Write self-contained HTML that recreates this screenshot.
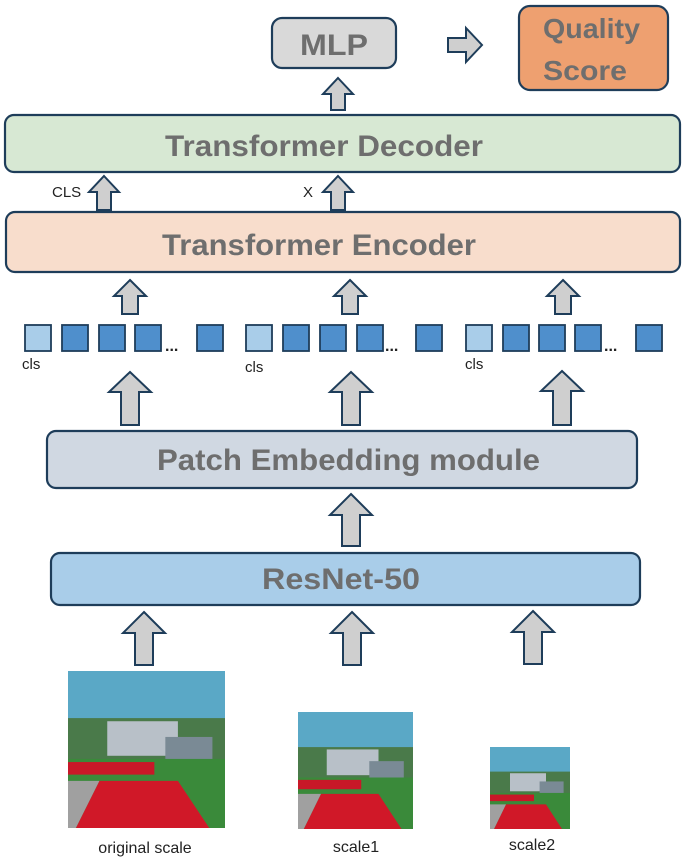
<!DOCTYPE html>
<html><head><style>
html,body{margin:0;padding:0;background:#fff;}
svg{display:block}
text{font-family:"Liberation Sans",sans-serif;}
</style></head><body>
<svg width="685" height="862" viewBox="0 0 685 862" xmlns="http://www.w3.org/2000/svg">
<g stroke="#1e3d5a" stroke-width="2.2">
<rect x="272" y="18" width="124" height="50" rx="10" fill="#d9d9d9"/>
<rect x="519" y="6" width="149" height="84" rx="11" fill="#eea070"/>
<rect x="5" y="115" width="675" height="57" rx="9" fill="#d7e8d3"/>
<rect x="6" y="212" width="674" height="60" rx="9" fill="#f8ddcc"/>
<rect x="47" y="431" width="590" height="57" rx="9" fill="#d0d8e2"/>
<rect x="51" y="553" width="589" height="52" rx="9" fill="#a9cde9"/>
</g>
<g font-weight="bold" fill="#6e6e6e" font-size="30">
<text x="300" y="55" textLength="68" lengthAdjust="spacingAndGlyphs">MLP</text>
<text x="543" y="38" font-size="28" textLength="97" lengthAdjust="spacingAndGlyphs">Quality</text>
<text x="543" y="80" font-size="28" textLength="84" lengthAdjust="spacingAndGlyphs">Score</text>
<text x="165" y="156" textLength="318" lengthAdjust="spacingAndGlyphs">Transformer Decoder</text>
<text x="162" y="255" textLength="314" lengthAdjust="spacingAndGlyphs">Transformer Encoder</text>
<text x="157" y="470" textLength="383" lengthAdjust="spacingAndGlyphs">Patch Embedding module</text>
<text x="262" y="589" textLength="158" lengthAdjust="spacingAndGlyphs">ResNet-50</text>
</g>
<g fill="#cfcfcf" stroke="#1e3d5a" stroke-width="2" stroke-linejoin="miter">
<path d="M448,38 h18 v-10 l16,17 l-16,17 v-10 h-18 z"/>
<path d="M338,78 l15,16 h-8 v16 h-14 v-16 h-8 z"/>
<path d="M104,176 l15,16 h-8 v18 h-14 v-18 h-8 z"/>
<path d="M338,176 l15,16 h-8 v18 h-14 v-18 h-8 z"/>
<path d="M130,280 l16,16 h-8 v18 h-16 v-18 h-8 z"/>
<path d="M350,280 l16,16 h-8 v18 h-16 v-18 h-8 z"/>
<path d="M563,280 l16,16 h-8 v18 h-16 v-18 h-8 z"/>
<path d="M130,372 l21,20 h-12 v33 h-18 v-33 h-12 z"/>
<path d="M351,372 l21,20 h-12 v33 h-18 v-33 h-12 z"/>
<path d="M562,371 l21,20 h-12 v34 h-18 v-34 h-12 z"/>
<path d="M351,494 l21,21 h-12 v31 h-18 v-31 h-12 z"/>
<path d="M144,612 l21,21 h-12 v32 h-18 v-32 h-12 z"/>
<path d="M352,612 l21,21 h-12 v32 h-18 v-32 h-12 z"/>
<path d="M533,611 l21,21 h-12 v32 h-18 v-32 h-12 z"/>
</g>
<g font-size="15" fill="#222">
<text x="52" y="197">CLS</text>
<text x="303" y="197">X</text>
<text x="22" y="369">cls</text>
<text x="245" y="372">cls</text>
<text x="465" y="369">cls</text>
</g>
<g stroke="#1e3d5a" stroke-width="1.8" fill="#4f8fcc">
<rect x="25" y="325" width="26" height="26" fill="#a9cde9"/>
<rect x="62" y="325" width="26" height="26"/>
<rect x="99" y="325" width="26" height="26"/>
<rect x="135" y="325" width="26" height="26"/>
<rect x="197" y="325" width="26" height="26"/>
<rect x="246" y="325" width="26" height="26" fill="#a9cde9"/>
<rect x="283" y="325" width="26" height="26"/>
<rect x="320" y="325" width="26" height="26"/>
<rect x="357" y="325" width="26" height="26"/>
<rect x="416" y="325" width="26" height="26"/>
<rect x="466" y="325" width="26" height="26" fill="#a9cde9"/>
<rect x="503" y="325" width="26" height="26"/>
<rect x="539" y="325" width="26" height="26"/>
<rect x="575" y="325" width="26" height="26"/>
<rect x="636" y="325" width="26" height="26"/>
</g>
<g font-size="16" fill="#222" font-weight="bold">
<text x="165" y="351">...</text>
<text x="385" y="351">...</text>
<text x="604" y="351">...</text>
</g>
<g>
<svg x="68" y="671" width="157" height="157" viewBox="0 0 100 100" preserveAspectRatio="none">
<rect width="100" height="100" fill="#5aa8c6"/><rect y="30" width="100" height="30" fill="#4a7a4a"/><rect x="25" y="32" width="45" height="22" fill="#b8c0c8"/><rect x="62" y="42" width="30" height="15" fill="#7a8a95"/><rect y="56" width="100" height="44" fill="#3a8a3a"/><rect y="58" width="55" height="8" fill="#c81828"/><path d="M20,70 L70,70 L90,100 L5,100 Z" fill="#d01828"/><path d="M0,70 L20,70 L5,100 L0,100Z" fill="#a0a0a0"/></svg>
<svg x="298" y="712" width="115" height="117" viewBox="0 0 100 100" preserveAspectRatio="none">
<rect width="100" height="100" fill="#5aa8c6"/><rect y="30" width="100" height="30" fill="#4a7a4a"/><rect x="25" y="32" width="45" height="22" fill="#b8c0c8"/><rect x="62" y="42" width="30" height="15" fill="#7a8a95"/><rect y="56" width="100" height="44" fill="#3a8a3a"/><rect y="58" width="55" height="8" fill="#c81828"/><path d="M20,70 L70,70 L90,100 L5,100 Z" fill="#d01828"/><path d="M0,70 L20,70 L5,100 L0,100Z" fill="#a0a0a0"/></svg>
<svg x="490" y="747" width="80" height="82" viewBox="0 0 100 100" preserveAspectRatio="none">
<rect width="100" height="100" fill="#5aa8c6"/><rect y="30" width="100" height="30" fill="#4a7a4a"/><rect x="25" y="32" width="45" height="22" fill="#b8c0c8"/><rect x="62" y="42" width="30" height="15" fill="#7a8a95"/><rect y="56" width="100" height="44" fill="#3a8a3a"/><rect y="58" width="55" height="8" fill="#c81828"/><path d="M20,70 L70,70 L90,100 L5,100 Z" fill="#d01828"/><path d="M0,70 L20,70 L5,100 L0,100Z" fill="#a0a0a0"/></svg>
</g>
<g font-size="16" fill="#222" text-anchor="middle">
<text x="145" y="853">original scale</text>
<text x="356" y="852">scale1</text>
<text x="532" y="850">scale2</text>
</g>
</svg>
</body></html>
